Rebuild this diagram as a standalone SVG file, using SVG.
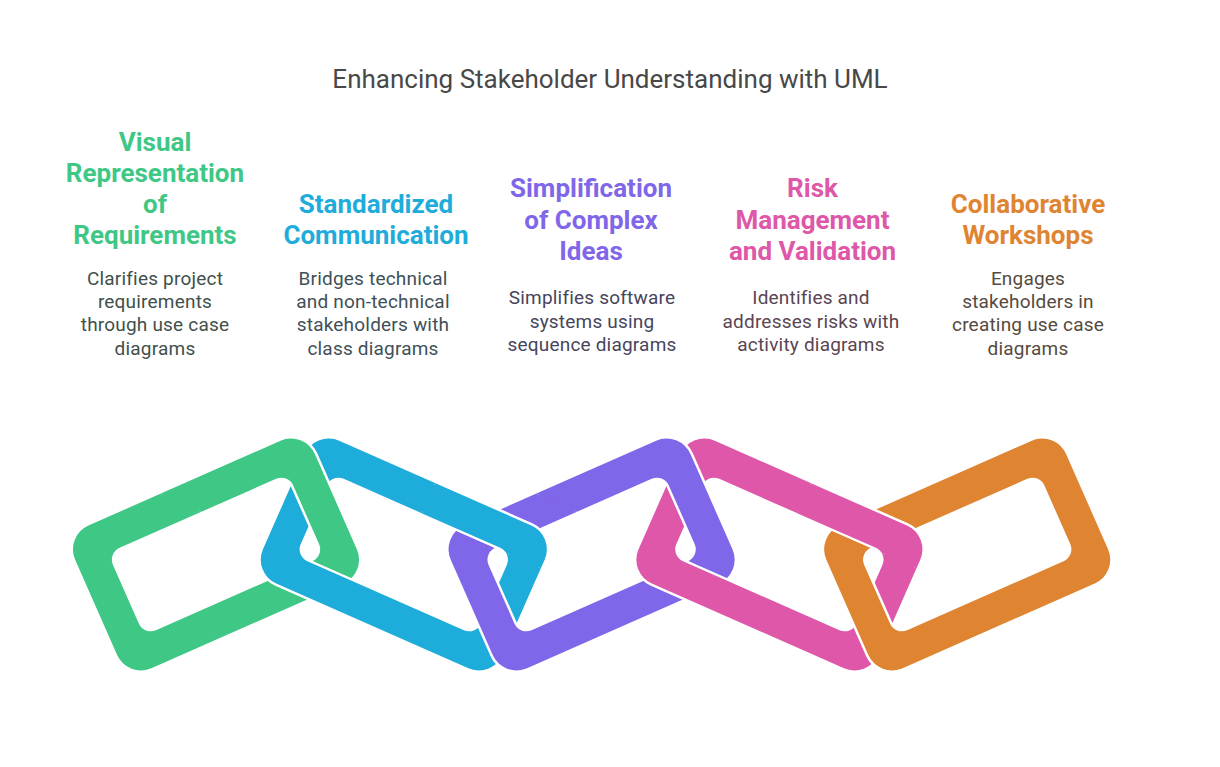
<svg xmlns="http://www.w3.org/2000/svg" xmlns:xlink="http://www.w3.org/1999/xlink" width="1220" height="767" viewBox="0 0 1220 767">
<style>
text{font-family:Roboto,"Liberation Sans",sans-serif;text-anchor:middle}
.t{font-size:26px;fill:#484848}
.h{font-size:26px;font-weight:700}
.d{font-size:19px;letter-spacing:.2px}
.l{fill-rule:evenodd;stroke:#fff;stroke-width:5;paint-order:stroke;stroke-linejoin:round}
.g{fill:#3ec785}.b{fill:#1eacdb}.p{fill:#8066e9}.k{fill:#de57a8}.o{fill:#df8431}
.d1{fill:#41504a}.d2{fill:#405058}.d3{fill:#47455c}.d4{fill:#5a4552}.d5{fill:#554a40}
</style>
<defs>
<path id="link" d="M-105-78H105A26 26 0 0 1 131-52V52A26 26 0 0 1 105 78H-105A26 26 0 0 1-131 52V-52A26 26 0 0 1-105-78ZM-85.500-45A13 13 0 0 0-98.500-32V32A13 13 0 0 0-85.500 45H85.500A13 13 0 0 0 98.500 32V-32A13 13 0 0 0 85.500-45Z"/>
<clipPath id="c1"><rect x="-250" y="-250" width="250" height="292.500" transform="translate(403.800 554.500) rotate(23.800)"/></clipPath>
<clipPath id="c2"><rect x="0" y="-250" width="250" height="207.500" transform="translate(403.800 554.500) rotate(23.800)"/></clipPath>
<clipPath id="c3"><rect x="-250" y="-250" width="250" height="292.500" transform="translate(779.400 554.500) rotate(23.800)"/></clipPath>
<clipPath id="c4"><rect x="0" y="-250" width="250" height="207.500" transform="translate(779.400 554.500) rotate(23.800)"/></clipPath>
</defs>
<text class="t" x="610" y="88">Enhancing Stakeholder Understanding with UML</text>
<g id="connectors">
<use xlink:href="#link" href="#link" class="l g" transform="translate(216 554.500) rotate(-23.800)"/>
<use xlink:href="#link" href="#link" class="l b" transform="translate(403.800 554.500) rotate(23.800)"/>
<g clip-path="url(#c1)"><use xlink:href="#link" href="#link" class="l g" transform="translate(216 554.500) rotate(-23.800)"/></g>
<use xlink:href="#link" href="#link" class="l p" transform="translate(591.600 554.500) rotate(-23.800)"/>
<g clip-path="url(#c2)"><use xlink:href="#link" href="#link" class="l b" transform="translate(403.800 554.500) rotate(23.800)"/></g>
<use xlink:href="#link" href="#link" class="l k" transform="translate(779.400 554.500) rotate(23.800)"/>
<g clip-path="url(#c3)"><use xlink:href="#link" href="#link" class="l p" transform="translate(591.600 554.500) rotate(-23.800)"/></g>
<use xlink:href="#link" href="#link" class="l o" transform="translate(967.200 554.500) rotate(-23.800)"/>
<g clip-path="url(#c4)"><use xlink:href="#link" href="#link" class="l k" transform="translate(779.400 554.500) rotate(23.800)"/></g>
</g>
<g id="n1">
<text class="h g" x="155" y="151">Visual</text><text class="h g" x="155" y="182">Representation</text><text class="h g" x="155" y="213">of</text><text class="h g" x="155" y="244">Requirements</text>
<text class="d d1" x="155" y="285">Clarifies project</text><text class="d d1" x="155" y="308">requirements</text><text class="d d1" x="155" y="331">through use case</text><text class="d d1" x="155" y="355">diagrams</text>
</g>
<g id="n2">
<text class="h b" x="376" y="213">Standardized</text><text class="h b" x="376" y="244">Communication</text>
<text class="d d2" x="373" y="285">Bridges technical</text><text class="d d2" x="373" y="308">and non-technical</text><text class="d d2" x="373" y="331">stakeholders with</text><text class="d d2" x="373" y="355">class diagrams</text>
</g>
<g id="n3">
<text class="h p" x="591" y="197">Simplification</text><text class="h p" x="591" y="229">of Complex</text><text class="h p" x="591" y="260">Ideas</text>
<text class="d d3" x="592" y="304">Simplifies software</text><text class="d d3" x="592" y="328">systems using</text><text class="d d3" x="592" y="351">sequence diagrams</text>
</g>
<g id="n4">
<text class="h k" x="812.500" y="197">Risk</text><text class="h k" x="812.500" y="229">Management</text><text class="h k" x="812.500" y="260">and Validation</text>
<text class="d d4" x="811" y="304">Identifies and</text><text class="d d4" x="811" y="328">addresses risks with</text><text class="d d4" x="811" y="351">activity diagrams</text>
</g>
<g id="n5">
<text class="h o" x="1028" y="213">Collaborative</text><text class="h o" x="1028" y="244">Workshops</text>
<text class="d d5" x="1028" y="285">Engages</text><text class="d d5" x="1028" y="308">stakeholders in</text><text class="d d5" x="1028" y="331">creating use case</text><text class="d d5" x="1028" y="355">diagrams</text>
</g>
</svg>
